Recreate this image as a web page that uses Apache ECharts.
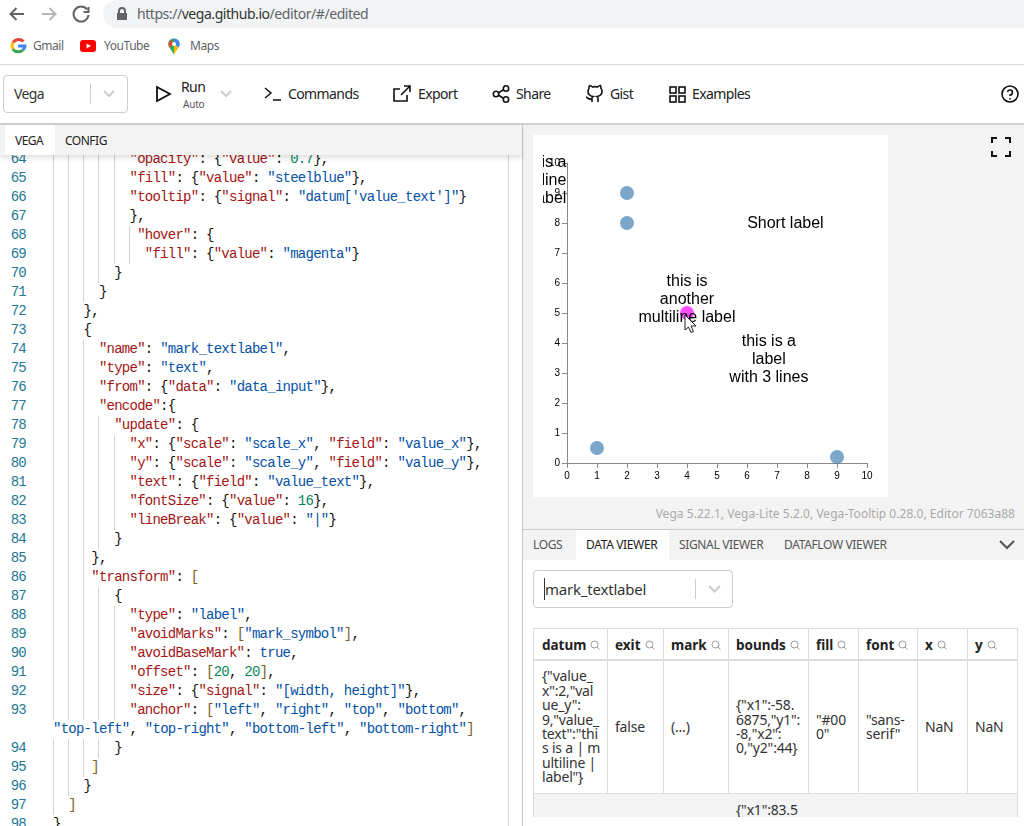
<!DOCTYPE html>
<html>
<head>
<meta charset="utf-8">
<title>Vega editor</title>
<script src="https://cdn.jsdelivr.net/npm/echarts@6/dist/echarts.min.js"></script>
<style>
html, body { margin:0; padding:0; width:1024px; height:826px; overflow:hidden; background:#fff; font-family:"Noto Sans",sans-serif; color:#222; }
.a { position:absolute; white-space:nowrap; }
.tb { font-size:14px; line-height:20px; letter-spacing:-.6px; top:84px; }
.bm { font-size:12px; line-height:18px; color:#5f6368; letter-spacing:-.45px; top:37px; }
.tab { font-size:12px; line-height:18px; letter-spacing:-.35px; top:536px; color:#555; }
.box { position:absolute; border:1px solid #ccc; border-radius:4px; box-sizing:border-box; background:#fff; }
svg { position:absolute; overflow:visible; }
#code { position:absolute; left:0; top:155px; width:508px; height:671px; overflow:hidden; background:#fff; }
#code .ln { position:absolute; width:26px; text-align:right; color:#237893; font:14px/19px "Liberation Mono",monospace; letter-spacing:-.75px; }
#code .tx { position:absolute; left:53px; white-space:pre; font:14px/19px "Liberation Mono",monospace; letter-spacing:-.75px; color:#111; }
#code .g { position:absolute; width:1px; background:#d3d3d3; }
.k { color:#a31515; } .s { color:#0451a5; } .n { color:#098658; } .b { color:#795e26; }
.cell { position:absolute; box-sizing:border-box; border-right:1px solid #ddd; border-bottom:1px solid #ddd; font-size:14px; line-height:14.4px; color:#333; display:flex; align-items:center; padding-left:8px; white-space:pre; letter-spacing:-.2px; }
.head { font-weight:700; color:#222; border-top:1px solid #ddd; border-bottom:2px solid #ddd; font-size:13.5px; letter-spacing:0; padding-top:2px; }
#chart { position:absolute; left:533px; top:135px; width:355px; height:362px; background:#fff; }
</style>
</head>
<body>

<!-- browser bar -->
<div class="a" style="left:103px;top:0;width:921px;height:28px;background:#f1f3f4;border-radius:14px 0 0 14px"></div>
<svg style="left:0;top:0" width="110" height="60" fill="none" stroke-width="2">
  <path d="M24 14H11M16.500 8 10.500 14 16.500 20" stroke="#5f6368"/>
  <path d="M42 14H55M49.500 8 55.500 14 49.500 20" stroke="#b5b7ba"/>
  <path d="M87 9.500A7.500 7.500 0 1 0 88.500 15M88.500 7V12H83.500" stroke="#5f6368"/>
</svg>
<svg style="left:116px;top:7px" width="12" height="14"><path d="M2 6V4a4 4 0 0 1 8 0V6h1v7H1V6Z M4 6h4V4a2 2 0 0 0-4 0Z" fill="#5f6368" fill-rule="evenodd"/></svg>
<div class="a" style="left:137px;top:4px;font-size:14px;line-height:20px;color:#5f6368;letter-spacing:-.45px">https://<span style="color:#333">vega.github.io</span>/editor/#/edited</div>

<svg style="left:10px;top:38px" width="16" height="16" viewBox="0 0 16 16" fill="none" stroke-width="3">
  <path d="M13.500 3.500A7 7 0 0 0 3 4.500" stroke="#ea4335"/><path d="M3 4.500A7 7 0 0 0 3 11.500" stroke="#fbbc05"/>
  <path d="M3 11.500A7 7 0 0 0 13 12" stroke="#34a853"/><path d="M13 12A7 7 0 0 0 15 8H8" stroke="#4285f4"/>
</svg>
<div class="a bm" style="left:33px">Gmail</div>
<svg style="left:80px;top:40px" width="16" height="12"><rect width="16" height="12" rx="3" fill="#f00"/><path d="M6.500 3.500 11 6 6.500 8.500Z" fill="#fff"/></svg>
<div class="a bm" style="left:104px">YouTube</div>
<svg style="left:168px;top:38px" width="12" height="17"><path d="M6 16.500 1.500 9.500A5.500 5.500 0 0 1 6 .5Z" fill="#34a853"/><path d="M6 16.500 10.500 9.500 6 6Z" fill="#fbbc05"/><path d="M6 .5A5.500 5.500 0 0 1 10.500 9.500L6 6Z" fill="#4285f4"/><path d="M1.500 9.500A5.500 5.500 0 0 1 3 2L6 6Z" fill="#ea4335"/><circle cx="6" cy="6" r="2" fill="#fff"/></svg>
<div class="a bm" style="left:190px">Maps</div>
<div class="a" style="left:0;top:64px;width:1024px;height:1px;background:#d8d8d8"></div>

<!-- toolbar -->
<div class="box" style="left:3px;top:75px;width:125px;height:38px"></div>
<div class="a tb" style="left:14px;color:#333">Vega</div>
<div class="a" style="left:90px;top:84px;width:1px;height:20px;background:#ccc"></div>
<svg style="left:0;top:0" width="240" height="110" fill="none">
  <path d="M104 91l5 5 5-5" stroke="#ccc" stroke-width="2"/>
  <path d="M157 87 170 94 157 101Z" stroke="#111" stroke-width="1.800"/>
  <path d="M221 91l5 5 5-5" stroke="#ccc" stroke-width="2"/>
</svg>
<div class="a tb" style="left:181px;top:77px">Run</div>
<div class="a" style="left:183px;top:97px;font-size:10px;line-height:15px;color:#555;letter-spacing:-.2px">Auto</div>
<svg style="left:264px;top:86px" width="18" height="16" fill="none" stroke="#111" stroke-width="1.500"><path d="M1 2 7 7 1 12M9 14H17"/></svg>
<div class="a tb" style="left:288px">Commands</div>
<svg style="left:393px;top:85px" width="18" height="18" fill="none" stroke="#111" stroke-width="1.600"><path d="M14 10V16H1V4H7M8 10 17 1M11 1H17V7"/></svg>
<div class="a tb" style="left:418px">Export</div>
<svg style="left:492px;top:85px" width="18" height="18" fill="none" stroke="#111" stroke-width="1.600"><circle cx="14" cy="3.500" r="2.700"/><circle cx="4" cy="9" r="2.700"/><circle cx="14" cy="14.500" r="2.700"/><path d="M6.500 7.700 11.500 4.800M6.500 10.300 11.500 13.200"/></svg>
<div class="a tb" style="left:516px">Share</div>
<svg style="left:585px;top:84px" width="20" height="20" fill="none" stroke="#111" stroke-width="1.600"><path d="M7 18V15C3 16 2.500 13 1 13M13 18V14.500C13 13 12 12.500 12 12.500 15 12 17 10.500 17 7.500 17 6 16.500 5 16 4.500 16 3 16 2 15.500 1.500 14.500 1.500 13 2.500 12.500 3 11 2.500 9 2.500 7.500 3 7 2.500 5.500 1.500 4.500 1.500 4 2 4 3 4 4.500 3.500 5 3 6 3 7.500 3 10.500 5 12 8 12.500 8 12.500 7 13 7 14.500"/></svg>
<div class="a tb" style="left:610px">Gist</div>
<svg style="left:669px;top:86px" width="17" height="17" fill="none" stroke="#111" stroke-width="1.600"><rect x="1" y="1" width="6" height="6"/><rect x="10" y="1" width="6" height="6"/><rect x="1" y="10" width="6" height="6"/><rect x="10" y="10" width="6" height="6"/></svg>
<div class="a tb" style="left:692px">Examples</div>
<svg style="left:1001px;top:85px" width="18" height="18" fill="none" stroke="#111" stroke-width="1.600"><circle cx="9" cy="9" r="8"/><path d="M6.500 7A2.500 2.500 0 1 1 9 10V11"/><path d="M9 13V14.500"/></svg>
<div class="a" style="left:0;top:123px;width:1024px;height:2px;background:#d0d0d0"></div>

<!-- left pane -->
<div class="a" style="left:0;top:125px;width:522px;height:30px;background:#f3f3f3;box-shadow:0 3px 5px rgba(0,0,0,.12);z-index:2"></div>
<div class="a" style="left:5px;top:125px;width:50px;height:30px;background:#fff;z-index:2"></div>
<div class="a" style="left:15px;top:132px;font-size:12px;line-height:18px;letter-spacing:-.5px;z-index:3">VEGA</div>
<div class="a" style="left:65px;top:132px;font-size:12px;line-height:18px;letter-spacing:-.5px;z-index:3">CONFIG</div>
<div id="code"></div>
<div class="a" style="left:508px;top:155px;width:1px;height:671px;background:#d3d3d3"></div>
<div class="a" style="left:522px;top:125px;width:1px;height:701px;background:#c8c8c8"></div>

<!-- right pane -->
<div class="a" style="left:523px;top:125px;width:501px;height:404px;background:#f3f3f3"></div>
<div id="chart"></div>
<svg style="left:991px;top:137px" width="20" height="20" fill="none" stroke="#111" stroke-width="2"><path d="M1 6V1H6M14 1H19V6M19 14V19H14M6 19H1V14"/></svg>
<div class="a" style="right:9px;top:505px;font-size:12px;line-height:18px;color:#aaa;letter-spacing:.03px">Vega 5.22.1, Vega-Lite 5.2.0, Vega-Tooltip 0.28.0, Editor 7063a88</div>
<div class="a" style="left:523px;top:529px;width:501px;height:1px;background:#ccc"></div>
<div class="a" style="left:523px;top:530px;width:501px;height:30px;background:#f3f3f3"></div>
<div class="a" style="left:576px;top:530px;width:93px;height:30px;background:#fff"></div>
<div class="a tab" style="left:533px">LOGS</div>
<div class="a tab" style="left:586px;color:#222">DATA VIEWER</div>
<div class="a tab" style="left:679px">SIGNAL VIEWER</div>
<div class="a tab" style="left:784px">DATAFLOW VIEWER</div>
<svg style="left:999px;top:540px" width="16" height="10" fill="none" stroke="#555" stroke-width="2"><path d="M1 1 8 8 15 1"/></svg>
<div class="box" style="left:533px;top:570px;width:200px;height:38px"></div>
<div class="a" style="left:544px;top:578px;width:1px;height:22px;background:#333"></div>
<div class="a" style="left:545px;top:578px;font-size:15px;line-height:22px;color:#333;letter-spacing:-.2px">mark_textlabel</div>
<div class="a" style="left:695px;top:579px;width:1px;height:20px;background:#ccc"></div>
<svg style="left:708px;top:585px" width="13" height="8" fill="none" stroke="#ccc" stroke-width="2"><path d="M1 1 6.500 6.500 12 1"/></svg>
<div id="table"></div>
<div class="a" style="left:533px;top:817px;width:491px;height:9px;background:#fff"></div>

<svg style="left:684px;top:314px;z-index:5" width="14" height="20"><path d="M1 1V16L4.500 13 7 18.500 9.500 17.500 7 12H12Z" fill="#fff" stroke="#222" stroke-width="1"/></svg>

<script>
// chart data
var pointX = [1, 2, 2, 4, 9];
var pointY = [0.5, 9, 8, 5, 0.2];
var hoverIndex = 3;
var labelX = [-0.02, 7.28, 4.0, 6.73];
var labelY = [9.4, 7.97, 5.45, 3.45];
var labelAlign = ['right', 'center', 'center', 'center'];
var labelText = ['this is a|multiline|label', 'Short label', 'this is|another|multiline label', 'this is a|label|with 3 lines'];
var xTicks = [0, 10, 1];
var yTicks = [0, 10, 1];

// editor text: [line number, indent, text]
var codeRows = [
  [64,10,'"opacity": {"value": 0.7},'],
  [65,10,'"fill": {"value": "steelblue"},'],
  [66,10,'"tooltip": {"signal": "datum[\'value_text\']"}'],
  [67,10,'},'],
  [68,11,'"hover": {'],
  [69,12,'"fill": {"value": "magenta"}'],
  [70,8,'}'],
  [71,6,'}'],
  [72,4,'},'],
  [73,4,'{'],
  [74,6,'"name": "mark_textlabel",'],
  [75,6,'"type": "text",'],
  [76,6,'"from": {"data": "data_input"},'],
  [77,6,'"encode":{'],
  [78,8,'"update": {'],
  [79,10,'"x": {"scale": "scale_x", "field": "value_x"},'],
  [80,10,'"y": {"scale": "scale_y", "field": "value_y"},'],
  [81,10,'"text": {"field": "value_text"},'],
  [82,10,'"fontSize": {"value": 16},'],
  [83,10,'"lineBreak": {"value": "|"}'],
  [84,8,'}'],
  [85,5,'},'],
  [86,5,'"transform": ['],
  [87,8,'{'],
  [88,10,'"type": "label",'],
  [89,10,'"avoidMarks": ["mark_symbol"],'],
  [90,10,'"avoidBaseMark": true,'],
  [91,10,'"offset": [20, 20],'],
  [92,10,'"size": {"signal": "[width, height]"},'],
  [93,10,'"anchor": ["left", "right", "top", "bottom",'],
  [null,0,'"top-left", "top-right", "bottom-left", "bottom-right"]'],
  [94,8,'}'],
  [95,5,']'],
  [96,4,'}'],
  [97,2,']'],
  [98,0,'}']
];

// data viewer table
var columnEdges = [533, 607, 663, 728, 808, 858, 917, 967, 1017];
var columnNames = ['datum', 'exit', 'mark', 'bounds', 'fill', 'font', 'x', 'y'];
var firstRow = [
  '{"value_\nx":2,"val\nue_y":\n9,"value_\ntext":"thi\ns is a | m\nultiline |\nlabel"}',
  'false', '(...)', '{"x1":-58.\n6875,"y1":\n-8,"x2":\n0,"y2":44}', '"#00\n0"', '"sans-\nserif"', 'NaN', 'NaN'
];

function esc(t) { return t.replace(/&/g, '&amp;').replace(/</g, '&lt;'); }
function colour(t) {
  return esc(t).replace(/"(?:[^"])*"(\s*:)?|\b\d+(?:\.\d+)?\b|\btrue\b|[\[\]]/g, function (m, colon) {
    if (m === '[' || m === ']') return '<span class="b">' + m + '</span>';
    if (m === 'true') return '<span class="s">' + m + '</span>';
    if (m.charAt(0) !== '"') return '<span class="n">' + m + '</span>';
    if (colon) {
      var q = m.lastIndexOf('"') + 1;
      return '<span class="k">' + m.slice(0, q) + '</span>' + m.slice(q);
    }
    return '<span class="s">' + m + '</span>';
  });
}

var html = '';
codeRows.forEach(function (row, i) {
  var top = i * 19 - 5;
  if (row[0] !== null) {
    html += '<div class="ln" style="top:' + top + 'px">' + row[0] + '</div>';
    var guides = Math.ceil(row[1] / 2);
    for (var g = 0; g < guides; g++) {
      html += '<div class="g" style="left:' + Math.round(52.5 + g * 15.3) + 'px;top:' + top + 'px;height:19px"></div>';
    }
  }
  html += '<div class="tx" style="top:' + top + 'px;padding-left:' + (row[1] * 7.65) + 'px">' + colour(row[2]) + '</div>';
});
document.getElementById('code').innerHTML = html;

var cells = '';
function cell(x1, x2, y1, y2, cls, text, extra) {
  cells += '<div class="cell ' + cls + '" style="left:' + x1 + 'px;width:' + (x2 - x1 + 1) + 'px;top:' + y1 + 'px;height:' + (y2 - y1) + 'px;' + (extra || '') + '">' + esc(text) + '</div>';
}
columnNames.forEach(function (name, i) {
  var extra = i === 0 ? 'border-left:1px solid #ddd;' : '';
  cell(columnEdges[i], columnEdges[i + 1], 628, 661, 'head', name, extra);
  cell(columnEdges[i], columnEdges[i + 1], 661, 794, '', firstRow[i], extra);
  var second = i === 3 ? '{"x1":83.5' : '';
  cell(columnEdges[i], columnEdges[i + 1], 794, 840, '', second, extra + 'background:#f3f3f3;align-items:flex-start;padding-top:9px;');
});
document.getElementById('table').innerHTML = cells;
// magnifier next to each column name
var heads = document.querySelectorAll('.head');
for (var h = 0; h < heads.length; h++) {
  heads[h].innerHTML += '<svg style="position:static;margin-left:4px" width="10" height="10" fill="none" stroke="#999"><circle cx="4.500" cy="4.500" r="3.500"/><path d="M7 7 9.500 9.500"/></svg>';
}

var myChart = echarts.init(document.getElementById('chart'), null, {renderer: 'canvas'});
var option = {
  animation: false,
  grid: {left: 34, top: 28, width: 300, height: 300, containLabel: false},
  xAxis: {
    type: 'value', min: xTicks[0], max: xTicks[1], interval: xTicks[2],
    splitLine: {show: false},
    axisLine: {show: true, onZero: false, lineStyle: {color: '#888', width: 1}},
    axisTick: {show: true, inside: false, length: 5, lineStyle: {color: '#888'}},
    axisLabel: {show: true, margin: 8, fontSize: 10, color: '#000', fontFamily: 'Liberation Sans', showMinLabel: true, showMaxLabel: true, hideOverlap: false}
  },
  yAxis: {
    type: 'value', min: yTicks[0], max: yTicks[1], interval: yTicks[2],
    splitLine: {show: false},
    axisLine: {show: true, onZero: false, lineStyle: {color: '#888', width: 1}},
    axisTick: {show: true, inside: false, length: 5, lineStyle: {color: '#888'}},
    axisLabel: {show: true, margin: 7, fontSize: 10, color: '#000', fontFamily: 'Liberation Sans', showMinLabel: true, showMaxLabel: true, hideOverlap: false}
  },
  series: [
    {
      type: 'scatter',
      symbolSize: 14,
      silent: true,
      data: pointX.map(function (x, i) {
        return {
          value: [x, pointY[i]],
          itemStyle: {color: i === hoverIndex ? 'magenta' : 'steelblue', opacity: 0.7}
        };
      }),
      z: 2
    },
    {
      type: 'custom',
      coordinateSystem: 'cartesian2d',
      silent: true,
      clip: false,
      z: 3,
      data: labelX.map(function (x, i) { return [x, labelY[i], i]; }),
      renderItem: function (params, api) {
        var p = api.coord([api.value(0), api.value(1)]);
        var idx = api.value(2);
        var el = {
          type: 'text',
          style: {
            x: p[0], y: p[1],
            text: labelText[idx].split('|').join('\n'),
            align: labelAlign[idx], verticalAlign: 'middle',
            font: '16px "Liberation Sans"', lineHeight: 18, fill: '#000'
          }
        };
        // the label pushed left of the axis is cut by the view's edges
        if (labelAlign[idx] === 'right') {
          el.clipPath = {type: 'rect', shape: {x: 10, y: 0, width: 24, height: 300}};
        }
        return el;
      }
    }
  ]
};
myChart.setOption(option);
</script>
</body>
</html>
